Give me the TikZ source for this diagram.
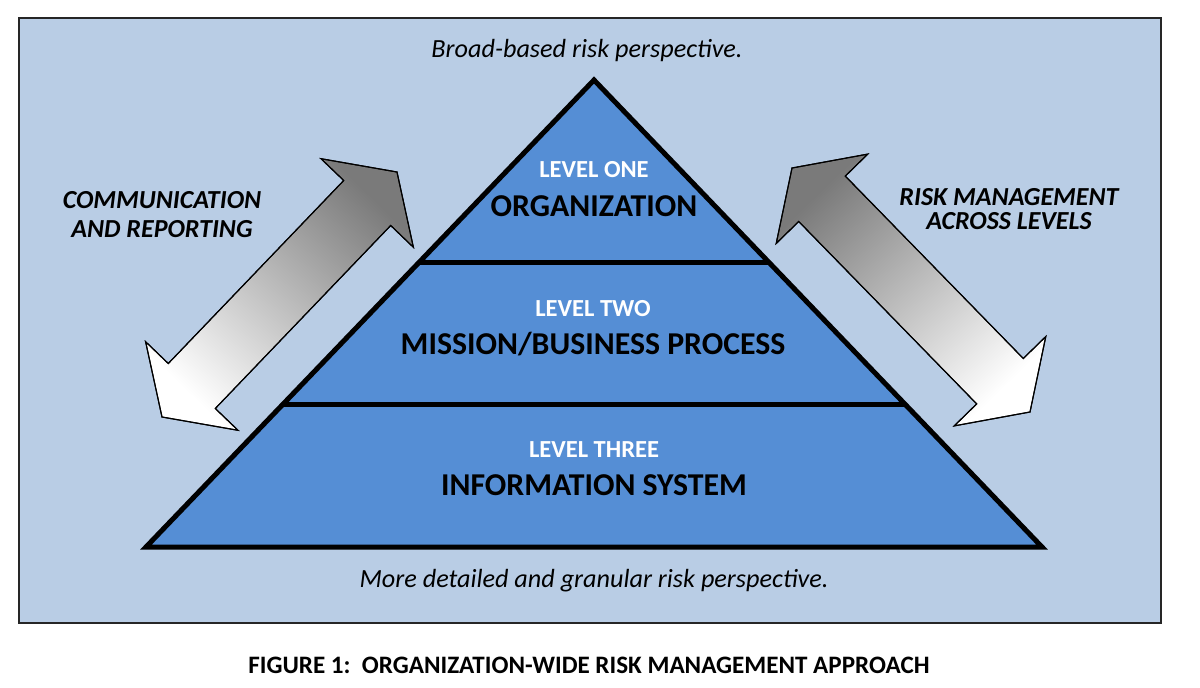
\documentclass[tikz,border=0pt]{standalone}
\usepackage{fontspec}
\setmainfont{Carlito}
\definecolor{panelbg}{HTML}{B9CDE5}
\definecolor{pyrblue}{HTML}{558ED5}
\definecolor{arrgray}{HTML}{7A7A7A}
\begin{document}
\begin{tikzpicture}[x=1pt,y=-1pt,
  txt/.style={inner sep=0pt, anchor=base},
  lvl/.style={txt, text=white, font=\bfseries\fontsize{24.5}{29}\selectfont},
  title/.style={txt, text=black, font=\bfseries\fontsize{31.8}{38}\selectfont},
  side/.style={txt, font=\bfseries\itshape\fontsize{26}{31}\selectfont},
  persp/.style={txt, font=\itshape\fontsize{26.2}{31}\selectfont},
  dbl/.style={draw=black, line width=1.1pt, line join=miter, top color=arrgray, bottom color=white}]
\useasboundingbox (0,0) rectangle (1200,688);
% panel
\draw[fill=panelbg, draw=black!85, line width=1.6pt] (19,18) rectangle (1161,623);
% left double arrow
\shade[dbl, shading angle=-44]
  (162,417) -- (145.6,341.7) -- (168.3,363.5) -- (343.7,180.5) -- (321,158.7)
  -- (397,172) -- (413.4,247.3) -- (390.7,225.5) -- (215.3,408.5) -- (238,430.3) -- cycle;
\draw[black, line width=1.1pt, line join=miter]
  (162,417) -- (145.6,341.7) -- (168.3,363.5) -- (343.7,180.5) -- (321,158.7)
  -- (397,172) -- (413.4,247.3) -- (390.7,225.5) -- (215.3,408.5) -- (238,430.3) -- cycle;
% right double arrow
\shade[dbl, shading angle=44]
  (792,168) -- (867.8,154.1) -- (845.3,176.1) -- (1023.3,358.5) -- (1045.8,336.5)
  -- (1030,412) -- (954.2,425.9) -- (976.7,403.9) -- (798.7,221.5) -- (776.2,243.5) -- cycle;
\draw[black, line width=1.1pt, line join=miter]
  (792,168) -- (867.8,154.1) -- (845.3,176.1) -- (1023.3,358.5) -- (1045.8,336.5)
  -- (1030,412) -- (954.2,425.9) -- (976.7,403.9) -- (798.7,221.5) -- (776.2,243.5) -- cycle;
% pyramid
\coordinate (apex) at (594,80);
\coordinate (bl) at (146,547);
\coordinate (br) at (1042,547);
\coordinate (d1l) at (419.4,262);
\coordinate (d1r) at (768.6,262);
\coordinate (d2l) at (283.2,404);
\coordinate (d2r) at (904.8,404);
\fill[pyrblue] (apex) -- (bl) -- (br) -- cycle;
\draw[line width=5pt] (d1l) -- (d1r);
\draw[line width=5pt] (d2l) -- (d2r);
\draw[line width=5pt, line join=miter] (apex) -- (bl) -- (br) -- cycle;
% pyramid texts
\node[lvl] (l1) at (594,177) {LEVEL ONE};
\node[title] (t1) at (594,216) {ORGANIZATION};
\node[lvl] (l2) at (593,316) {LEVEL TWO};
\node[title] (t2) at (593,354) {MISSION/BUSINESS PROCESS};
\node[lvl] (l3) at (594,457) {LEVEL THREE};
\node[title] (t3) at (594,495) {INFORMATION SYSTEM};
% side labels
\node[side] (sl1) at (162,208) {COMMUNICATION};
\node[side] (sl2) at (162,237) {AND REPORTING};
\node[side] (sr1) at (1009,205) {RISK MANAGEMENT};
\node[side] (sr2) at (1009,229) {ACROSS LEVELS};
% perspective texts
\node[persp] (top) at (587,57) {Broad-based risk perspective.};
\node[persp] (bot) at (594,587) {More detailed and granular risk perspective.};
% caption
\node[txt, font=\bfseries\fontsize{25.1}{30}\selectfont] (cap) at (589,673) {FIGURE 1:\ \ ORGANIZATION-WIDE RISK MANAGEMENT APPROACH};
\end{tikzpicture}
\end{document}
